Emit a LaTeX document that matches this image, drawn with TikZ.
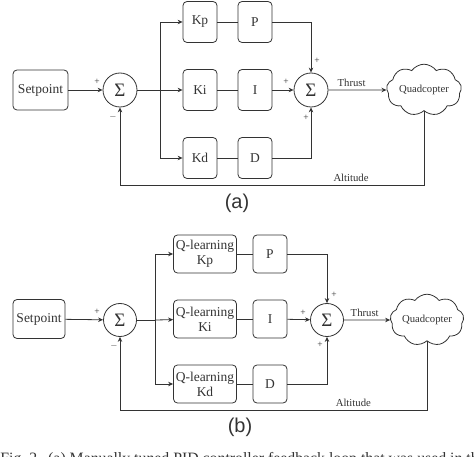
\documentclass[tikz,border=0pt]{standalone}
\usepackage{fontspec}
\setmainfont{Liberation Serif}
\newfontfamily\labelsans{Liberation Sans}
\usetikzlibrary{shapes.symbols,arrows.meta}

\tikzset{blockbox/.style = {draw, rounded corners=4pt, minimum width=34pt, minimum height=41pt, inner sep=1pt, align=center, font=\fontsize{13.5}{15}\selectfont},
         sumnode/.style = {draw, circle, minimum size=34pt, inner sep=0pt, font=\fontsize{19}{19}\selectfont},
         plant/.style = {draw, cloud, cloud puffs=9, cloud puff arc=110, aspect=1.7, minimum width=75pt, minimum height=46pt, inner sep=0pt, font=\fontsize{10.7}{12}\selectfont},
         signal/.style = {-{Stealth[length=5pt, width=4.5pt]}},
         sign/.style = {inner sep=0pt, font=\fontsize{9.5}{9.5}\selectfont},
         wirelabel/.style = {font=\fontsize{10.7}{12}\selectfont}}

\begin{document}
\begin{tikzpicture}[x=1pt, y=-1pt, line width=0.8pt, color=black!80]
\useasboundingbox (0,0) rectangle (474,457);
% (a) manually tuned loop
\node[blockbox, minimum width=55pt, minimum height=40pt] (setA) at (40.5,90) {Setpoint};
\node[sumnode] (sumA) at (120,90) {Σ};
\coordinate (splitA) at (160,90);
\node[blockbox] (kpA) at (200,22) {Kp};
\node[blockbox] (kiA) at (200,90) {Ki};
\node[blockbox] (kdA) at (200,158) {Kd};
\node[blockbox] (pA) at (255,22) {P};
\node[blockbox] (iA) at (255,90) {I};
\node[blockbox] (dA) at (255,158) {D};
\node[sumnode] (sumB) at (311,90) {Σ};
\node[plant] (quadA) at (424,90) {Quadcopter};
\coordinate (loopA) at (423,185);

\draw[signal] (setA) -- (sumA);
\draw (sumA) -- (splitA);
\draw[signal] (splitA) |- (kpA);
\draw[signal] (splitA) -- (kiA);
\draw[signal] (splitA) |- (kdA);
\draw (kpA) -- (pA);
\draw (kiA) -- (iA);
\draw (kdA) -- (dA);
\draw[signal] (pA) -| (sumB);
\draw[signal] (iA) -- (sumB);
\draw[signal] (dA) -| (sumB);
\draw[signal] (sumB) -- (quadA) node[wirelabel, pos=0.4, above] (thrustA) {Thrust};
\draw[signal] (quadA.south) |- (sumA.south |- loopA) node[wirelabel, pos=0.62, above] (altA) {Altitude} -- (sumA.south);

\node[sign] (inA) at (97,82) {+};
\node[sign] (fbA) at (113,117) {$-$};
\node[sign] (topA) at (317,61) {+};
\node[sign] (midA) at (286,82) {+};
\node[sign] (botA) at (306,118) {+};
\node[font=\labelsans\fontsize{20}{20}\selectfont] (capA) at (237,203) {(a)};

% (b) Q-learning tuned loop
\node[blockbox, minimum width=52pt, minimum height=39pt] (setB) at (39,319) {Setpoint};
\node[sumnode, minimum size=33pt] (sumC) at (120,320) {Σ};
\coordinate (splitB) at (155,320);
\node[blockbox, minimum width=63pt, minimum height=38pt] (qkp) at (205,254) {Q-learning\\Kp};
\node[blockbox, minimum width=63pt, minimum height=38pt] (qki) at (205,319) {Q-learning\\Ki};
\node[blockbox, minimum width=63pt, minimum height=38pt] (qkd) at (205,384) {Q-learning\\Kd};
\node[blockbox, minimum height=38pt] (pB) at (270,254) {P};
\node[blockbox, minimum height=38pt] (iB) at (270,319) {I};
\node[blockbox, minimum height=38pt] (dB) at (270,384) {D};
\node[sumnode, minimum size=33pt] (sumD) at (327,320) {Σ};
\node[plant, minimum width=71pt, minimum height=44pt] (quadB) at (427,320) {Quadcopter};
\coordinate (loopB) at (428,410);

\draw[signal] (setB) -- (sumC);
\draw (sumC) -- (splitB);
\draw[signal] (splitB) |- (qkp);
\draw[signal] (splitB) -- (qki);
\draw[signal] (splitB) |- (qkd);
\draw (qkp) -- (pB);
\draw (qki) -- (iB);
\draw (qkd) -- (dB);
\draw[signal] (pB) -| (sumD);
\draw[signal] (iB) -- (sumD);
\draw[signal] (dB) -| (sumD);
\draw[signal] (sumD) -- (quadB) node[wirelabel, pos=0.45, above] (thrustB) {Thrust};
\draw[signal] (quadB.south) |- (sumC.south |- loopB) node[wirelabel, pos=0.62, above] (altB) {Altitude} -- (sumC.south);

\node[sign] (inB) at (97,312) {+};
\node[sign] (fbB) at (114,346) {$-$};
\node[sign] (topB) at (334,295) {+};
\node[sign] (midB) at (303,313) {+};
\node[sign] (botB) at (320,345) {+};
\node[font=\labelsans\fontsize{20}{20}\selectfont] (capB) at (240,427) {(b)};

% caption, cut by the page edge
\node[anchor=base west, inner sep=0pt, font=\fontsize{15.8}{16}\selectfont] (caption) at (0,463) {Fig.~2.\hspace{7pt}(a) Manually tuned PID controller feedback loop that was used in the};
\end{tikzpicture}
\end{document}
